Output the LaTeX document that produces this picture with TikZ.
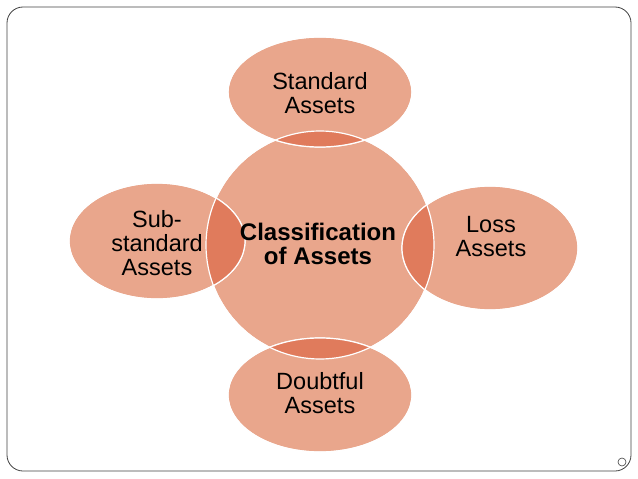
\documentclass[tikz,border=0pt]{standalone}
\usepackage{fontspec}
\setmainfont{Liberation Sans}
\definecolor{fillc}{HTML}{E9A68C}
\definecolor{darkc}{HTML}{E07B5C}
\definecolor{framec}{HTML}{404040}
\begin{document}
\begin{tikzpicture}[x=1pt,y=-1pt,
  blob/.style={fill=fillc,draw=white,line width=1.2pt},
  lbl/.style={font=\fontsize{23.5}{24}\selectfont,align=center,text=black}]
\useasboundingbox (0,0) rectangle (638,479);
\draw[framec,line width=0.8pt,rounded corners=16pt] (7,7) rectangle (631,471);
\draw[framec,line width=0.6pt,fill=white] (622,462) circle (4);
% shapes
\path[blob] (320,245) circle (114);
\path[blob] (320,92) ellipse (92 and 55);
\path[blob] (157,241) ellipse (88 and 58);
\path[blob] (490,248) ellipse (88 and 62);
\path[blob] (320,395) ellipse (92 and 57);
% overlaps
\begin{scope}\clip (320,245) circle (114);
  \fill[darkc] (320,92) ellipse (92 and 55);
  \fill[darkc] (157,241) ellipse (88 and 58);
  \fill[darkc] (490,248) ellipse (88 and 62);
  \fill[darkc] (320,395) ellipse (92 and 57);
\end{scope}
\draw[white,line width=1.2pt] (320,245) circle (114);
\draw[white,line width=1.2pt] (320,92) ellipse (92 and 55);
\draw[white,line width=1.2pt] (157,241) ellipse (88 and 58);
\draw[white,line width=1.2pt] (490,248) ellipse (88 and 62);
\draw[white,line width=1.2pt] (320,395) ellipse (92 and 57);
\node[lbl,font=\fontsize{24}{24}\selectfont\bfseries] (c) at (318,244) {Classification\\of Assets};
\node[lbl] (t) at (320,93) {Standard\\Assets};
\node[lbl] (l) at (157,243) {Sub-\\standard\\Assets};
\node[lbl] (r) at (491,237) {Loss\\Assets};
\node[lbl] (b) at (320,393) {Doubtful\\Assets};
\end{tikzpicture}
\end{document}
